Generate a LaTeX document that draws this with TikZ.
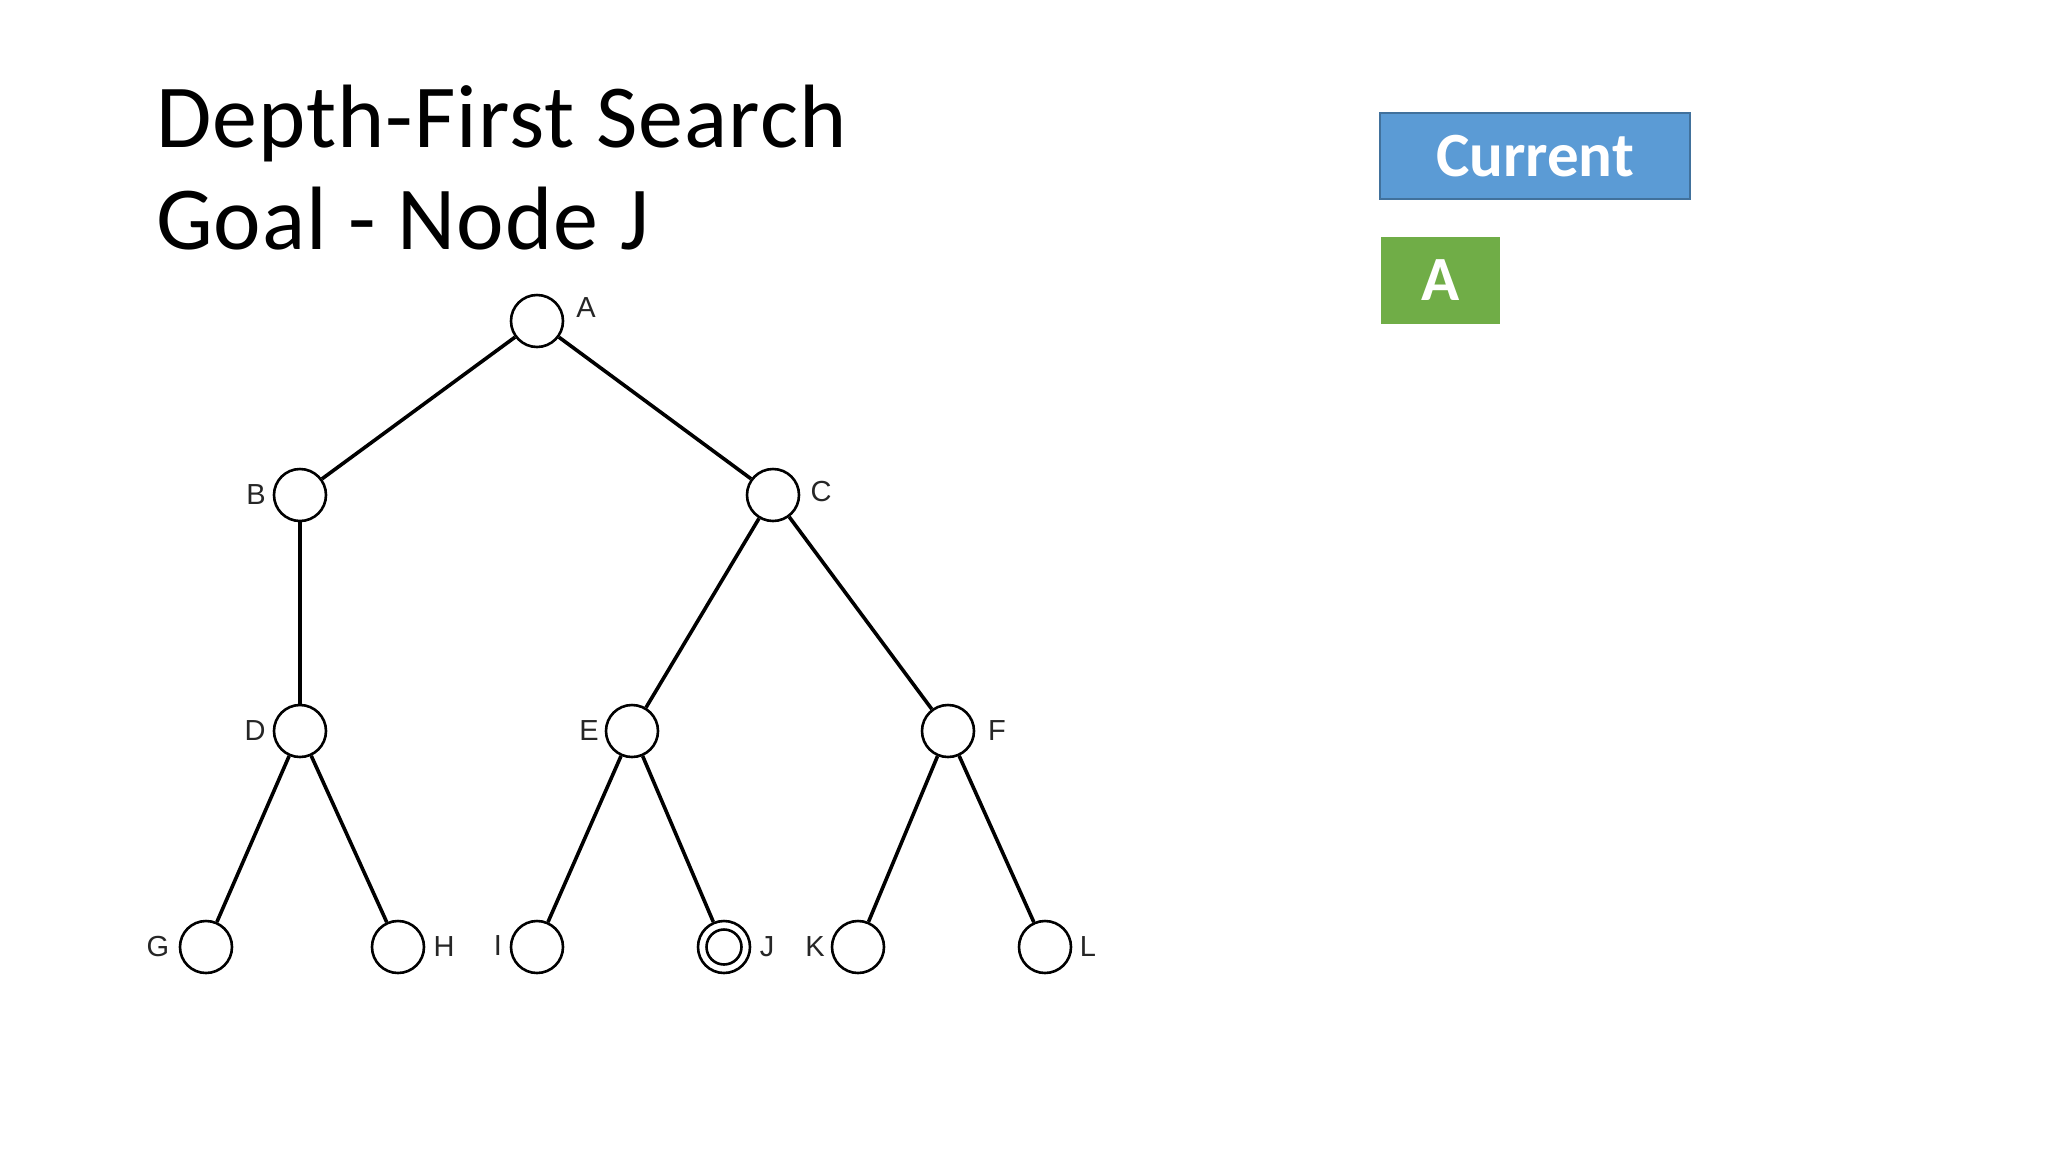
\documentclass[tikz,border=0pt]{standalone}
\usepackage{fontspec}
\setmainfont{Carlito}
\newfontfamily\labelfont{Liberation Sans}
\newfontfamily\titlefont[LetterSpace=1.2]{Carlito}
\definecolor{curblue}{HTML}{5B9BD5}
\definecolor{curblueborder}{HTML}{41719C}
\definecolor{curgreen}{HTML}{70AD47}
\begin{document}
\begin{tikzpicture}[x=1pt,y=-1pt,
  tnode/.style={circle,draw=black,line width=2.6pt,minimum size=52pt,inner sep=0pt,fill=white},
  tedge/.style={line width=3.6pt,black},
  tlabel/.style={font=\labelfont\fontsize{29}{29}\selectfont,inner sep=0pt,text=black!85},
  titletext/.style={font=\titlefont\fontsize{90}{100}\selectfont,inner sep=0pt,anchor=base west},
  boxtext/.style={font=\bfseries\fontsize{63}{63}\selectfont,text=white}
]
\useasboundingbox[fill=white] (0,0) rectangle (2048,1152);

% title
\node[titletext] (t1) at (156,147) {Depth-First Search};
\node[titletext] (t2) at (156,249) {Goal - Node J};

% boxes
\node[draw=curblueborder,line width=1.6pt,fill=curblue,minimum width=310pt,minimum height=86pt,inner sep=0pt,boxtext] (cur) at (1535,156) {Current};
\node[fill=curgreen,minimum width=119pt,minimum height=87pt,inner sep=0pt,boxtext] (ga) at (1440.5,280.5) {A};

% tree nodes
\node[tnode] (A) at (537,321) {};
\node[tnode] (B) at (300,495) {};
\node[tnode] (C) at (773,495) {};
\node[tnode] (D) at (300,731) {};
\node[tnode] (E) at (632,731) {};
\node[tnode] (F) at (948,731) {};
\node[tnode] (G) at (206,947) {};
\node[tnode] (H) at (398,947) {};
\node[tnode] (I) at (537,947) {};
\node[tnode] (J) at (724,947) {};
\node[tnode] (K) at (858,947) {};
\node[tnode] (L) at (1045,947) {};
\draw[line width=2.6pt] (J.center) circle[radius=17.5pt];

% edges
\draw[tedge] (A) -- (B);
\draw[tedge] (A) -- (C);
\draw[tedge] (B) -- (D);
\draw[tedge] (C) -- (E);
\draw[tedge] (C) -- (F);
\draw[tedge] (D) -- (G);
\draw[tedge] (D) -- (H);
\draw[tedge] (E) -- (I);
\draw[tedge] (E) -- (J);
\draw[tedge] (F) -- (K);
\draw[tedge] (F) -- (L);

% labels
\node[tlabel] (lA) at (586,308) {A};
\node[tlabel] (lB) at (256,495) {B};
\node[tlabel] (lC) at (821,492) {C};
\node[tlabel] (lD) at (255,731) {D};
\node[tlabel] (lE) at (589,731) {E};
\node[tlabel] (lF) at (997,731) {F};
\node[tlabel] (lG) at (158,947) {G};
\node[tlabel] (lH) at (444,947) {H};
\node[tlabel] (lI) at (498,946) {I};
\node[tlabel] (lJ) at (767,947) {J};
\node[tlabel] (lK) at (815,947) {K};
\node[tlabel] (lL) at (1088,947) {L};
\end{tikzpicture}
\end{document}
